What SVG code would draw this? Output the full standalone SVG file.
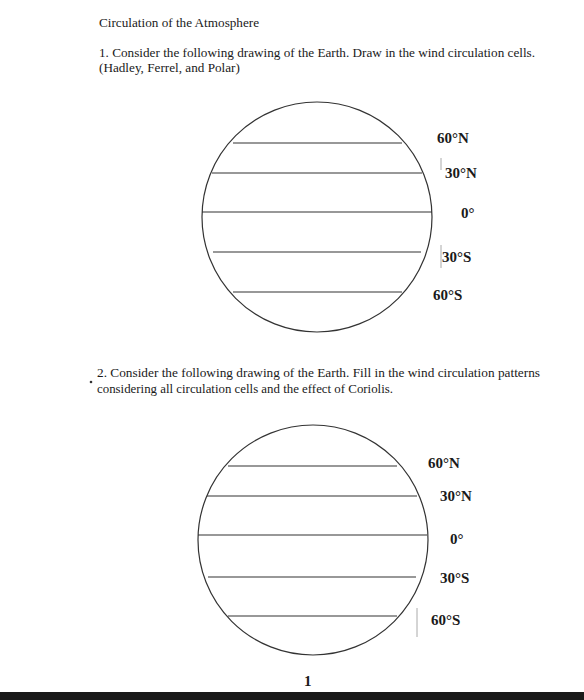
<svg xmlns="http://www.w3.org/2000/svg" width="584" height="700" viewBox="0 0 584 700">
<style>
.t{font-family:"Liberation Serif","Times New Roman",serif;font-size:13.2px;fill:#1a1a1a}
.lb{font-family:"Liberation Serif","Times New Roman",serif;font-size:15px;font-weight:bold;fill:#1a1a1a}
.earth{fill:none;stroke:#333;stroke-width:1.2}
.lat{stroke:#333;stroke-width:1.2}
.mark{stroke:#aaa;stroke-width:1}
</style>
<rect width="584" height="700" fill="#fff"/>
<g id="header">
<text class="t" x="99" y="27">Circulation of the Atmosphere</text>
<text class="t" x="99" y="57" textLength="436" lengthAdjust="spacingAndGlyphs">1. Consider the following drawing of the Earth.  Draw in the wind circulation cells.</text>
<text class="t" x="99" y="72">(Hadley, Ferrel, and Polar)</text>
</g>
<g id="earth1">
<circle class="earth" cx="317" cy="217" r="115"/>
<line class="lat" x1="233" y1="143" x2="402" y2="143"/>
<line class="lat" x1="212" y1="173" x2="422" y2="173"/>
<line class="lat" x1="202" y1="212" x2="432" y2="212"/>
<line class="lat" x1="213" y1="252" x2="421" y2="252"/>
<line class="lat" x1="233" y1="292" x2="402" y2="292"/>
<line class="mark" x1="441" y1="158" x2="441" y2="170"/>
<line class="mark" x1="441" y1="245" x2="441" y2="268"/>
<text class="lb" x="437" y="143">60°N</text>
<text class="lb" x="445" y="178">30°N</text>
<text class="lb" x="461" y="218">0°</text>
<text class="lb" x="442" y="262">30°S</text>
<text class="lb" x="433" y="300">60°S</text>
</g>
<g id="question2">
<circle cx="91" cy="382" r="1.3" fill="#333"/>
<text class="t" x="97" y="377" textLength="443" lengthAdjust="spacingAndGlyphs">2. Consider the following drawing of the Earth.  Fill in the wind circulation patterns</text>
<text class="t" x="97" y="393" textLength="296" lengthAdjust="spacingAndGlyphs">considering all circulation cells and the effect of Coriolis.</text>
</g>
<g id="earth2">
<circle class="earth" cx="313" cy="540" r="115"/>
<line class="lat" x1="228" y1="466" x2="397" y2="466"/>
<line class="lat" x1="207" y1="496" x2="417" y2="496"/>
<line class="lat" x1="198" y1="535" x2="427" y2="535"/>
<line class="lat" x1="208" y1="577" x2="416" y2="577"/>
<line class="lat" x1="228" y1="616" x2="397" y2="616"/>
<line class="mark" x1="417" y1="608" x2="417" y2="637"/>
<text class="lb" x="428" y="468">60°N</text>
<text class="lb" x="440" y="501">30°N</text>
<text class="lb" x="450" y="544">0°</text>
<text class="lb" x="440" y="583">30°S</text>
<text class="lb" x="431" y="625">60°S</text>
</g>
<g id="footer">
<text class="lb" x="304" y="686">1</text>
<rect x="0" y="692" width="584" height="8" fill="#1a1a1a"/>
</g>
</svg>
